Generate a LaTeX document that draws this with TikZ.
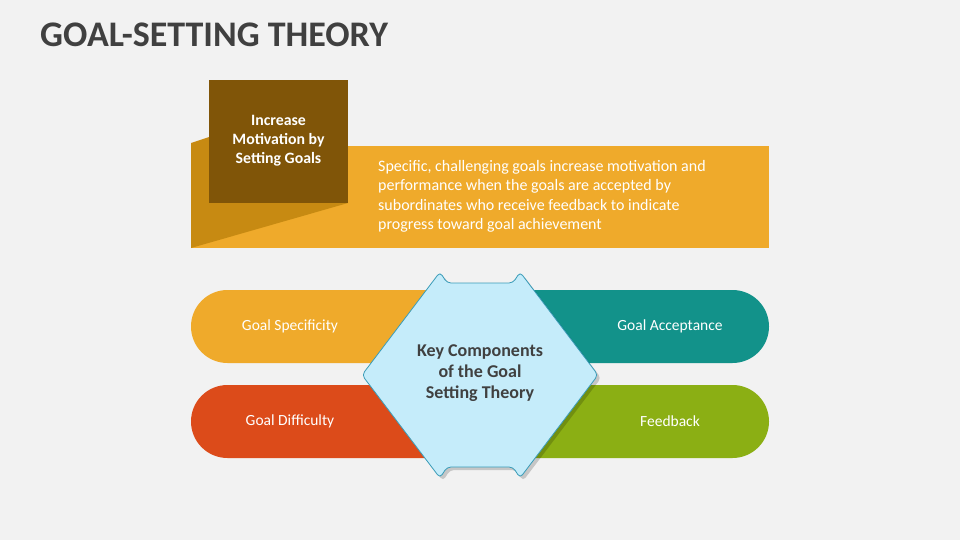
\documentclass[tikz,border=0pt]{standalone}
\usepackage{fontspec}
\setmainfont{Carlito}
\definecolor{bg}{HTML}{F2F2F2}
\definecolor{orng}{HTML}{EFAA2B}
\definecolor{dorng}{HTML}{C78A12}
\definecolor{brown}{HTML}{805508}
\definecolor{teal}{HTML}{12928A}
\definecolor{red}{HTML}{DC4B1A}
\definecolor{green}{HTML}{8BAF14}
\definecolor{hexfill}{HTML}{C5ECFA}
\definecolor{hexline}{HTML}{3A9CB8}
\definecolor{txt}{HTML}{404040}
\begin{document}
\begin{tikzpicture}[x=1pt,y=-1pt,
  pilltxt/.style={text=white,font=\fontsize{15.5}{18}\selectfont},
  boldtxt/.style={font=\bfseries\fontsize{15.8}{19}\selectfont,align=center}]
\fill[bg] (0,0) rectangle (960,540);
\node[anchor=west,inner sep=0pt,text=txt,font=\bfseries\fontsize{36}{40}\selectfont] (title) at (40,35) {GOAL-SETTING THEORY};
% banner
\fill[orng] (191,146) rectangle (769,248);
\fill[dorng] (191,143) -- (209,137) -- (209,203) -- (348,203) -- (191,248) -- cycle;
\fill[brown] (209,80) rectangle (348,203);
\node[boldtxt,text=white] (head) at (278.5,141) {Increase\\Motivation by\\Setting Goals};
\node[anchor=north west,inner sep=0pt,text=white,align=left,font=\fontsize{16}{19.5}\selectfont] (desc) at (378,160) {Specific, challenging goals increase motivation and\\performance when the goals are accepted by\\subordinates who receive feedback to indicate\\progress toward goal achievement};
% pills
\fill[orng] (450,290) -- (227.5,290) arc[start angle=270,end angle=90,radius=36.5] -- (450,363) -- cycle;
\fill[red] (450,385) -- (227.5,385) arc[start angle=270,end angle=90,radius=36.5] -- (450,458) -- cycle;
\fill[teal] (510,290) -- (732.5,290) arc[start angle=-90,end angle=90,radius=36.5] -- (510,363) -- cycle;
\fill[green] (510,385) -- (732.5,385) arc[start angle=-90,end angle=90,radius=36.5] -- (510,458) -- cycle;
\node[pilltxt] (p1) at (290,326.5) {Goal Specificity};
\node[pilltxt] (p2) at (290,421.5) {Goal Difficulty};
\node[pilltxt] (p3) at (670,326.5) {Goal Acceptance};
\node[pilltxt] (p4) at (670,421.5) {Feedback};
% hexagon
\begin{scope}[rounded corners=4pt]
\fill[black,opacity=0.18] (443,275) -- (450,286) -- (516,286) -- (523,275) -- (601,378) -- (523,481) -- (516,470) -- (450,470) -- (443,481) -- (365,378) -- cycle;
\draw[fill=hexfill,draw=hexline,line width=0.8pt] (440,272) -- (447,283) -- (513,283) -- (520,272) -- (598,375) -- (520,478) -- (513,467) -- (447,467) -- (440,478) -- (362,375) -- cycle;
\end{scope}
\node[text=txt,font=\bfseries\fontsize{18}{21}\selectfont,align=center] (hex) at (480,373) {Key Components\\of the Goal\\Setting Theory};
\end{tikzpicture}
\end{document}
